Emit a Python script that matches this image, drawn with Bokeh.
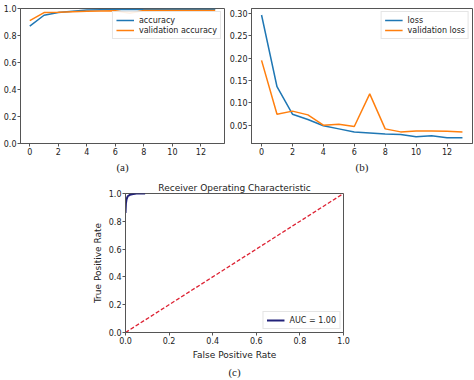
from bokeh.plotting import figure
from bokeh.layouts import column, row
from bokeh.models import Title, Range1d, FixedTicker, NumeralTickFormatter, Legend, LegendItem
from bokeh.embed import file_html
from bokeh.resources import INLINE

# ---- data ----
epochs = list(range(14))
accuracy = [0.870, 0.950, 0.970, 0.980, 0.988, 0.990, 0.992, 0.992, 0.993, 0.993, 0.994, 0.994, 0.995, 0.995]
val_accuracy = [0.910, 0.970, 0.972, 0.976, 0.980, 0.982, 0.984, 0.965, 0.986, 0.986, 0.986, 0.986, 0.986, 0.986]
loss = [0.2965, 0.136, 0.0745, 0.0626, 0.0486, 0.0417, 0.0347, 0.0326, 0.0305, 0.029, 0.0242, 0.0263, 0.022, 0.022]
val_loss = [0.195, 0.0745, 0.0814, 0.073, 0.050, 0.052, 0.047, 0.120, 0.0417, 0.035, 0.037, 0.037, 0.0365, 0.035]
fpr = [0.0, 0.002, 0.005, 0.010, 0.020, 0.030, 0.050, 0.090]
tpr = [0.86, 0.93, 0.96, 0.98, 0.99, 0.995, 1.0, 1.0]
diag = [0.0, 1.0]
auc_label = "AUC = 1.00"

BLUE = "#1f77b4"
ORANGE = "#ff7f0e"
SPINE = "#555555"
FONT = "DejaVu Sans"
SERIF = "Liberation Serif"


def style(p):
    p.outline_line_color = SPINE
    p.outline_line_width = 1
    p.xgrid.visible = False
    p.ygrid.visible = False
    for ax in (p.xaxis[0], p.yaxis[0]):
        ax.axis_line_color = SPINE
        ax.major_tick_line_color = SPINE
        ax.minor_tick_line_color = None
        ax.major_tick_in = 0
        ax.major_tick_out = 3
        ax.major_label_text_font = FONT
        ax.major_label_text_font_size = "8px"
        ax.major_label_text_color = "#222222"
        ax.major_label_standoff = 1
        ax.axis_label_text_font = FONT
        ax.axis_label_text_font_size = "9px"
        ax.axis_label_text_font_style = "normal"
        ax.axis_label_text_color = "#222222"
        ax.axis_label_standoff = 3


def caption(p, txt):
    p.add_layout(Title(text=txt, align="center", text_font=SERIF, text_font_size="11px",
                       text_font_style="normal", text_color="#222222", standoff=2), "below")


def legend(p, items, loc):
    lg = Legend(items=items, location=loc)
    lg.label_text_font = FONT
    lg.label_text_font_size = "8px"
    lg.label_text_color = "#222222"
    lg.label_height = 10
    lg.glyph_height = 10
    lg.glyph_width = 18
    lg.spacing = 0
    lg.padding = 3
    lg.margin = 3
    lg.border_line_color = "#cccccc"
    lg.background_fill_alpha = 0.9
    p.add_layout(lg)


# ---- (a) ----
pa = figure(width=226, height=176, output_backend="svg", toolbar_location=None,
            x_range=Range1d(-0.65, 13.65), y_range=Range1d(0.0, 1.0),
            min_border_left=16, min_border_right=2, min_border_top=8, min_border_bottom=33)
style(pa)
pa.xaxis.ticker = FixedTicker(ticks=[0, 2, 4, 6, 8, 10, 12])
pa.yaxis.ticker = FixedTicker(ticks=[0.0, 0.2, 0.4, 0.6, 0.8, 1.0])
pa.yaxis.formatter = NumeralTickFormatter(format="0.0")
ra1 = pa.line(epochs, accuracy, line_color=BLUE, line_width=1.5)
ra2 = pa.line(epochs, val_accuracy, line_color=ORANGE, line_width=1.5)
legend(pa, [LegendItem(label="accuracy", renderers=[ra1]),
            LegendItem(label="validation accuracy", renderers=[ra2])], "top_right")
caption(pa, "(a)")

# ---- (b) ----
pb = figure(width=248, height=176, output_backend="svg", toolbar_location=None,
            x_range=Range1d(-0.65, 13.65), y_range=Range1d(0.009, 0.311),
            min_border_left=22, min_border_right=2, min_border_top=3, min_border_bottom=29)
style(pb)
pb.xaxis.ticker = FixedTicker(ticks=[0, 2, 4, 6, 8, 10, 12])
pb.yaxis.ticker = FixedTicker(ticks=[0.05, 0.10, 0.15, 0.20, 0.25, 0.30])
pb.yaxis.formatter = NumeralTickFormatter(format="0.00")
rb1 = pb.line(epochs, loss, line_color=BLUE, line_width=1.5)
rb2 = pb.line(epochs, val_loss, line_color=ORANGE, line_width=1.5)
legend(pb, [LegendItem(label="loss", renderers=[rb1]),
            LegendItem(label="validation loss", renderers=[rb2])], "top_right")
caption(pb, "(b)")

# ---- (c) ----
pc = figure(width=363, height=202, output_backend="svg", toolbar_location=None,
            x_range=Range1d(0.0, 1.0), y_range=Range1d(0.0, 1.0),
            min_border_left=125, min_border_right=20, min_border_top=17, min_border_bottom=44,
            title="Receiver Operating Characteristic",
            x_axis_label="False Positive Rate", y_axis_label="True Positive Rate")
style(pc)
pc.title.text_font = FONT
pc.title.text_font_size = "9px"
pc.title.text_font_style = "normal"
pc.title.align = "center"
pc.title.text_color = "#222222"
pc.title.standoff = 2
pc.xaxis.ticker = FixedTicker(ticks=[0.0, 0.2, 0.4, 0.6, 0.8, 1.0])
pc.yaxis.ticker = FixedTicker(ticks=[0.0, 0.2, 0.4, 0.6, 0.8, 1.0])
pc.xaxis.formatter = NumeralTickFormatter(format="0.0")
pc.yaxis.formatter = NumeralTickFormatter(format="0.0")
pc.line(diag, diag, line_color="#dd2233", line_width=1.3, line_dash="4 2")
rc = pc.line(fpr, tpr, line_color="#22227a", line_width=2)
legend(pc, [LegendItem(label=auc_label, renderers=[rc])], "bottom_right")
caption(pc, "(c)")

layout = column(row(pa, pb), pc)
open("out.html", "w").write(file_html(layout, INLINE))
